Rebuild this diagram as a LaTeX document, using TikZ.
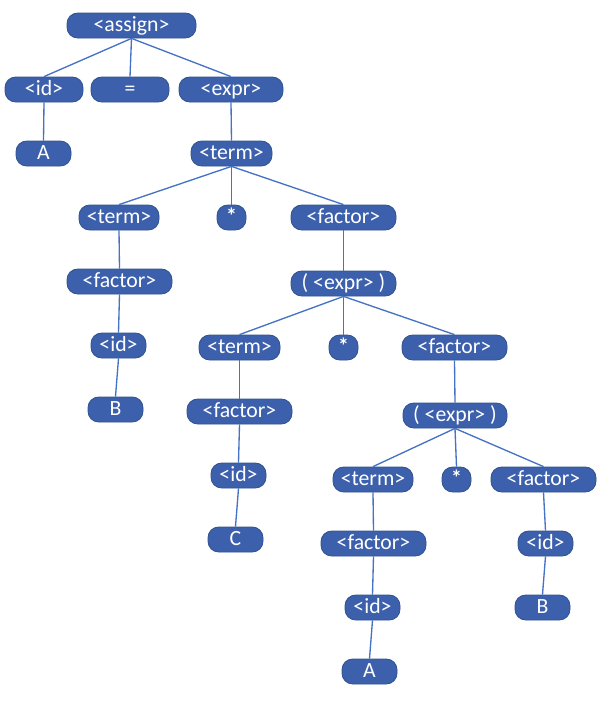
\documentclass[tikz,border=0pt]{standalone}
\usepackage{fontspec}
\setmainfont{Carlito}
\definecolor{nodefill}{HTML}{3D60AC}
\definecolor{nodeborder}{HTML}{2F528F}
\definecolor{edgecol}{HTML}{4472C4}
\tikzset{
  pn/.style={draw=nodeborder, line width=0.6pt, fill=nodefill, text=white,
    rounded corners=8pt, inner sep=0pt, minimum height=18.75pt,
    text height=12pt, text depth=3pt, font=\fontsize{16.3}{18}\selectfont},
  edge/.style={draw=edgecol, line width=1pt}
}
\begin{document}
\begin{tikzpicture}[x=0.75pt,y=-0.75pt]
\useasboundingbox (0,0) rectangle (609,714);
\newcommand{\pnode}[5]{\node[pn, minimum width=#4*0.75pt] (#1) at (#2,#3) {#5};}
\pnode{assign}{131.5}{25.5}{129}{<assign>}
\pnode{id1}{44}{89.5}{78}{<id>}
\pnode{eq}{130}{89.5}{78}{=}
\pnode{expr1}{231}{89.5}{104}{<expr>}
\pnode{a1}{43.5}{153.5}{55}{A}
\pnode{term1}{231.5}{153.5}{81}{<term>}
\pnode{term2}{119}{217.5}{80}{<term>}
\pnode{star1}{231.5}{217.5}{29}{\textbf{*}}
\pnode{factor1}{343.5}{217.5}{105}{<factor>}
\pnode{factor2}{119.5}{281.5}{105}{<factor>}
\pnode{pexpr1}{343.5}{283.5}{105}{( <expr> )}
\pnode{id2}{118.5}{345.5}{55}{<id>}
\pnode{b1}{115.5}{409.5}{55}{B}
\pnode{term3}{239.5}{347.5}{81}{<term>}
\pnode{star2}{343.5}{347.5}{29}{\textbf{*}}
\pnode{factor3}{454.5}{347.5}{105}{<factor>}
\pnode{factor4}{239.5}{411.5}{105}{<factor>}
\pnode{pexpr2}{455}{415.5}{104}{( <expr> )}
\pnode{id3}{238.5}{475.5}{55}{<id>}
\pnode{c1}{235.5}{539.5}{55}{C}
\pnode{term4}{373}{479.5}{80}{<term>}
\pnode{star3}{456.5}{479.5}{29}{\textbf{*}}
\pnode{factor5}{543.5}{479.5}{105}{<factor>}
\pnode{factor6}{373.5}{543.5}{105}{<factor>}
\pnode{id4}{545.5}{543.5}{55}{<id>}
\pnode{id5}{372.5}{607.5}{55}{<id>}
\pnode{b2}{542.5}{607.5}{55}{B}
\pnode{a2}{369.5}{671.5}{55}{A}
\foreach \p/\c in {assign/id1, assign/eq, assign/expr1, id1/a1, expr1/term1,
  term1/term2, term1/star1, term1/factor1, term2/factor2, factor2/id2, id2/b1,
  factor1/pexpr1, pexpr1/term3, pexpr1/star2, pexpr1/factor3, term3/factor4,
  factor4/id3, id3/c1, factor3/pexpr2, pexpr2/term4, pexpr2/star3, pexpr2/factor5,
  term4/factor6, factor6/id5, id5/a2, factor5/id4, id4/b2}
  \draw[edge] (\p.south) -- (\c.north);
\end{tikzpicture}
\end{document}
